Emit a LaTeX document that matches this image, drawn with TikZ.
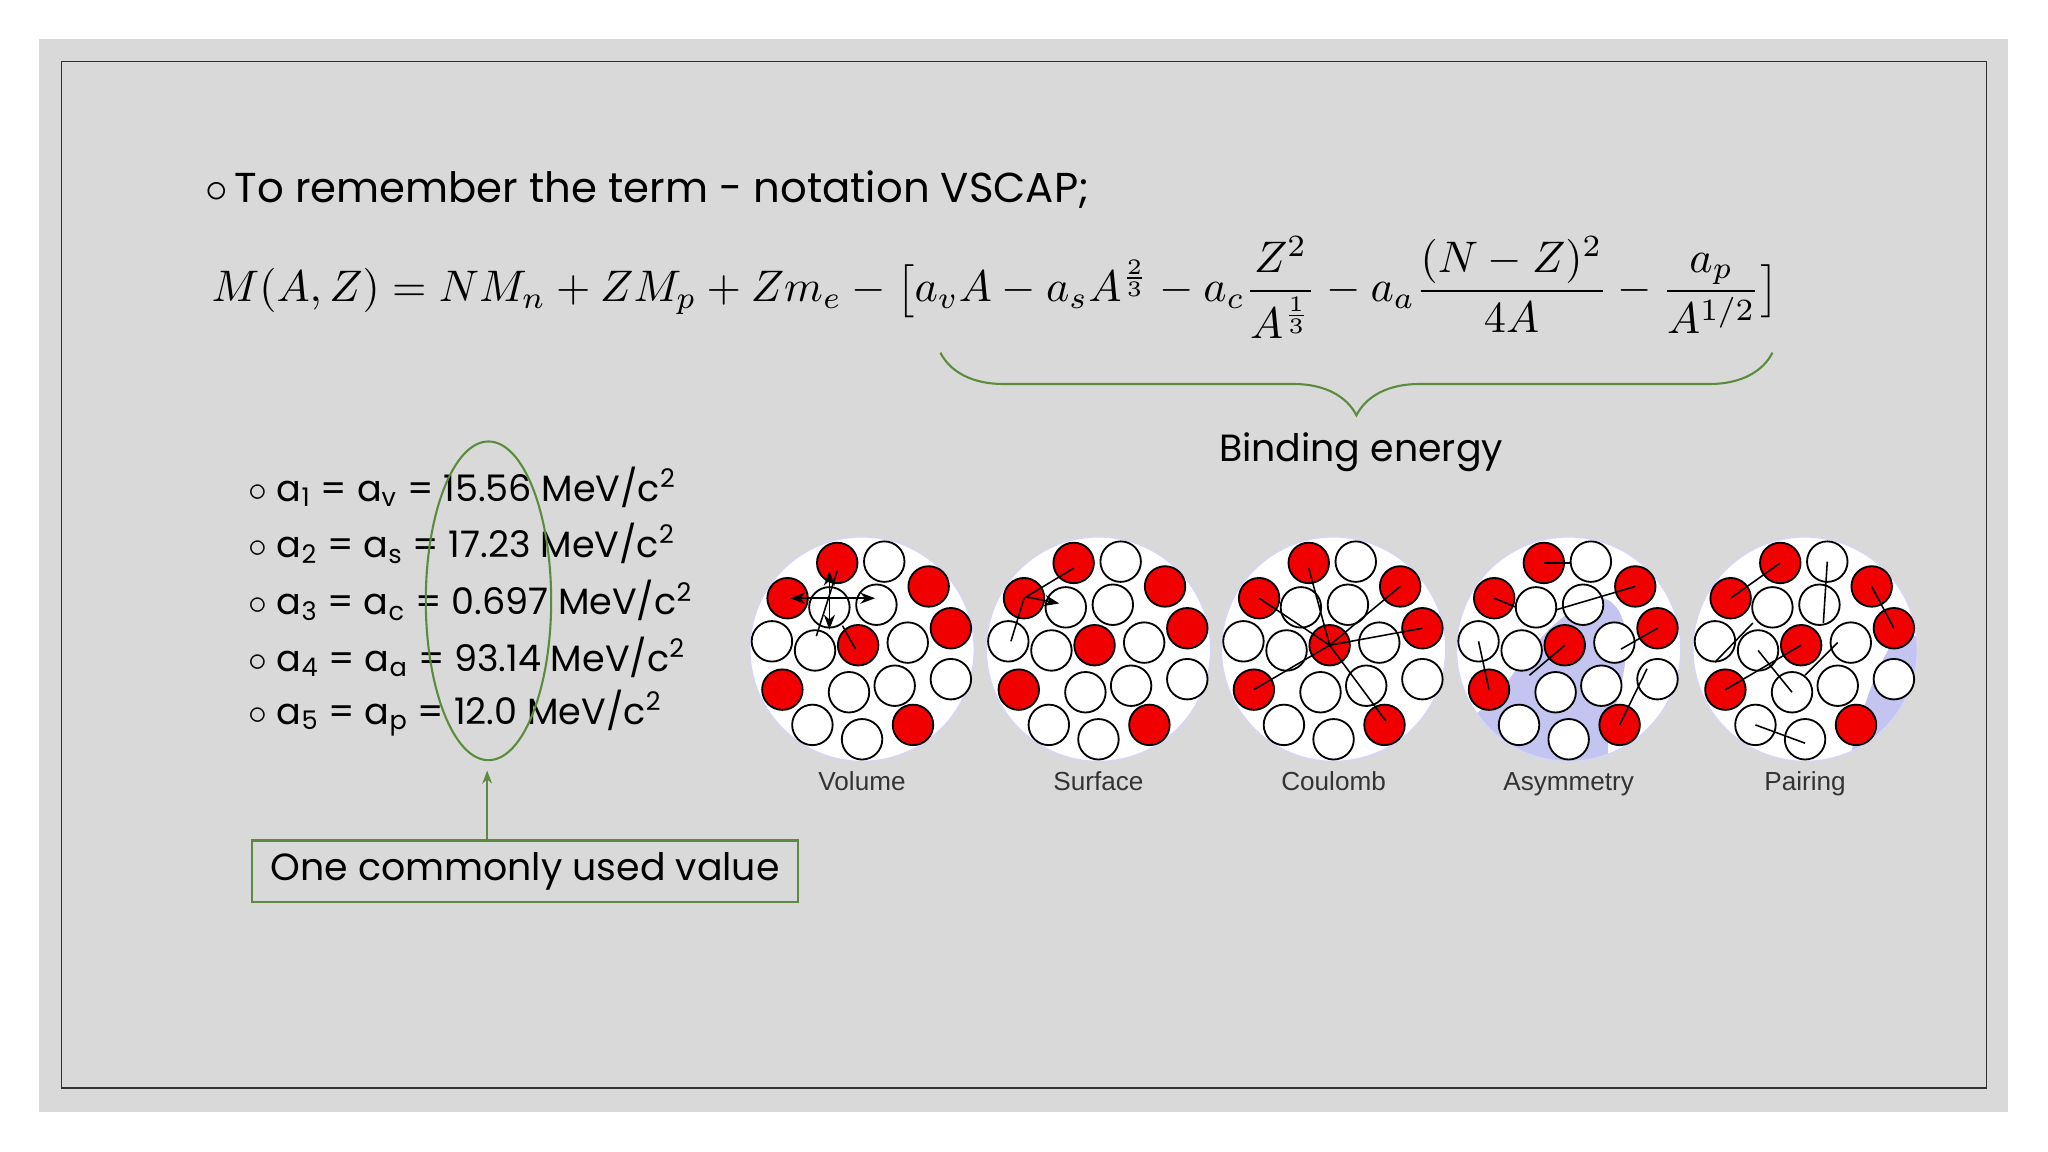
\documentclass[tikz,border=0pt]{standalone}
\usepackage{fontspec}
\usepackage{amsmath}
\setmainfont{Poppins}
\newfontfamily\lab{Liberation Sans}
\usetikzlibrary{decorations.pathreplacing,arrows.meta}
\definecolor{bg}{HTML}{D9D9D9}
\definecolor{gr}{HTML}{5B8C3E}
\definecolor{nred}{HTML}{F00000}
\definecolor{lav}{HTML}{C4C4F0}
\tikzset{nuc/.style={draw=black,line width=0.7pt},
 lbl/.style={font=\lab\fontsize{10}{12}\selectfont,text=black!80,anchor=base},
 item/.style={anchor=west,font=\fontsize{14}{16}\selectfont},
 bond/.style={line width=0.6pt}}
\begin{document}
\begin{tikzpicture}[x=0.5pt,y=-0.5pt]
\useasboundingbox (0,0) rectangle (1568,882);
\fill[white] (0,0) rectangle (1568,882);
\fill[bg] (30,30) rectangle (1537,851);
\draw[black!80,line width=0.6pt] (47,47) rectangle (1521,833);
\node[anchor=west,font=\fontsize{16}{18}\selectfont] (t) at (150,145) {$\circ$\,To remember the term - notation VSCAP;};
\node[anchor=west] (eq) at (155,220) {\resizebox{600pt}{!}{$M(A,Z)=NM_n+ZM_p+Zm_e-\bigl[a_vA-a_sA^{\frac23}-a_c\dfrac{Z^2}{A^{\frac13}}-a_a\dfrac{(N-Z)^2}{4A}-\dfrac{a_p}{A^{1/2}}\bigr]$}};
\coordinate (b1) at (720,270); \coordinate (b2) at (1357,270);
\draw[gr,line width=0.8pt,decorate,decoration={brace,mirror,amplitude=24pt}] (b1) -- (b2);
\node[font=\fontsize{14.5}{16}\selectfont] (be) at (1042,346) {Binding energy};
\foreach \i/\s/\v/\y in {1/1/v/373,2/2/s/416,3/3/c/460,4/4/a/503,5/5/p/546}
 \node[item] (a\i) at (183,\y) {$\circ$ a\textsubscript{\s} = a\textsubscript{\v} = \ifcase\i\or 15.56\or 17.23\or 0.697\or 93.14\or 12.0\fi{} MeV/c\textsuperscript{2}};
\draw[gr,line width=0.8pt] (374,460) ellipse [x radius=48,y radius=122];
\node[draw=gr,line width=0.8pt,minimum width=209pt,minimum height=23.5pt,font=\fontsize{14.5}{16}\selectfont] (box) at (402,667) {One commonly used value};
\coordinate (et) at (373,590);
\draw[gr,-{Stealth[length=5pt]},line width=0.6pt] (box.north -| et) -- (et);
\foreach \cx/\name/\k in {660/Volume/1,841/Surface/2,1021/Coulomb/3,1201/Asymmetry/4,1382/Pairing/5}{
 \begin{scope}[shift={(\cx,497)}]
  \fill[white] (0,0) circle (86);
  \ifnum\k=4 \begin{scope}\clip (0,0) circle (86); \fill[lav] (-90,60) .. controls (-40,40) and (-40,-10) .. (20,-40) .. controls (50,-40) and (50,10) .. (30,60) -- (30,100) -- (-90,100) -- cycle; \end{scope}\fi
  \ifnum\k=5 \begin{scope}\clip (0,0) circle (86); \fill[lav] (70,-10) -- (100,-10) -- (100,100) -- (30,100) .. controls (40,60) and (50,20) .. (70,-10); \end{scope}\fi
  \draw[lav!70!white,line width=0.6pt] (0,0) circle (86);
  \foreach \px/\py/\r in {-19/-66/1,17/-67/0,-57/-39/1,-25/-32/0,11/-34/0,51/-48/1,-69/-6/0,-36/1/0,-3/-3/1,35/-5/0,68/-16/1,-61/31/1,-10/33/0,25/28/0,68/23/0,-38/58/0,0/69/0,39/58/1}{
   \ifnum\r=1 \filldraw[nuc,fill=nred] (\px,\py) circle (15.5);
   \else \filldraw[nuc,fill=white] (\px,\py) circle (15.5);\fi}
  \ifcase\k\or
   \draw[bond,<->,>=Stealth] (-55,-39) -- (10,-39); \draw[bond,<->,>=Stealth] (-25,-60) -- (-25,-15);
   \draw[bond] (-35,-10) -- (-19,-60); \draw[bond] (-15,-18) -- (-5,0);
  \or
   \draw[bond] (-19,-62) -- (-57,-39) -- (-67,-6); \draw[bond,->,>=Stealth] (-55,-40) -- (-30,-35);
  \or
   \draw[bond] (-19,-62) -- (-3,-3) -- (40,55); \draw[bond] (-57,-39) -- (-3,-3) -- (68,-16); \draw[bond] (-61,31) -- (-3,-3) -- (51,-48);
  \or
   \draw[bond] (-19,-66) -- (2,-66); \draw[bond] (-57,-39) -- (-40,-32); \draw[bond] (-10,-30) -- (51,-48);
   \draw[bond] (-30,20) -- (-3,-3); \draw[bond] (40,0) -- (68,-16); \draw[bond] (-69,-6) -- (-61,31); \draw[bond] (39,58) -- (60,15);
  \or
   \draw[bond] (-57,-39) -- (-19,-66); \draw[bond] (17,-67) -- (14,-20); \draw[bond] (51,-48) -- (68,-16);
   \draw[bond] (-61,31) -- (-3,-3); \draw[bond] (-40,-20) -- (-69,10); \draw[bond] (-36,1) -- (-10,33);
   \draw[bond] (0,20) -- (25,-5); \draw[bond] (-38,58) -- (0,72);
  \fi
 \end{scope}
 \node[lbl] (l\k) at (\cx,605) {\name};
}
\end{tikzpicture}
\end{document}
